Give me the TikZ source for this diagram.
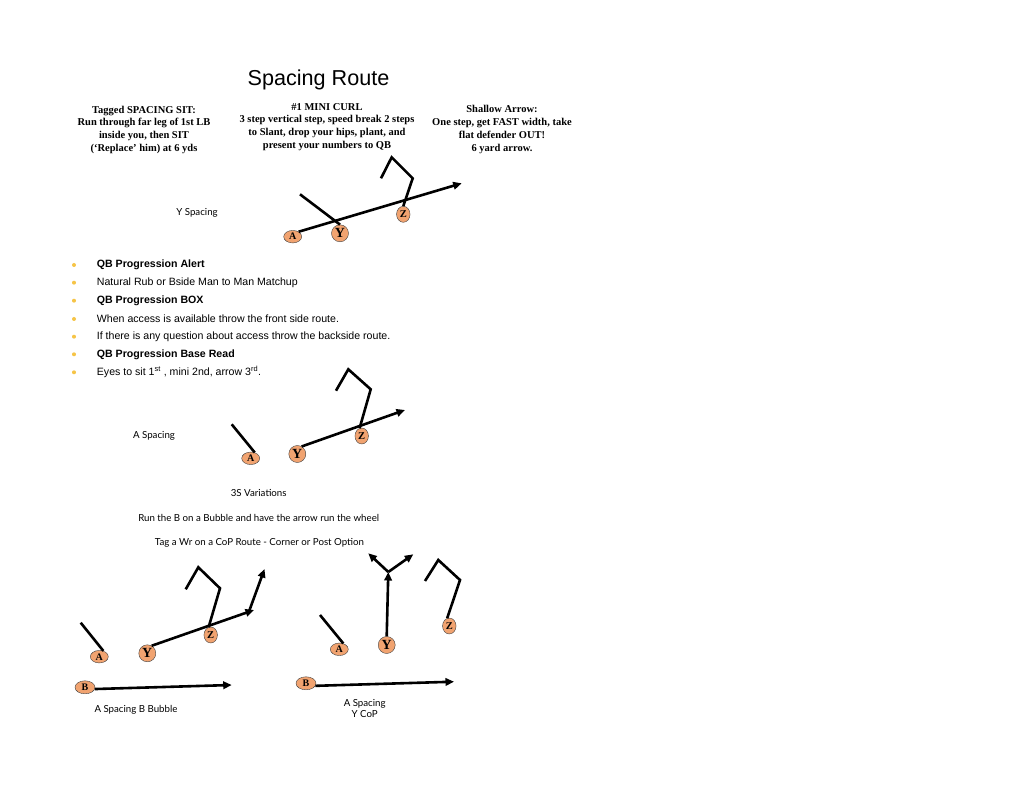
\documentclass[tikz,border=0pt]{standalone}
\usepackage{fontspec}
\setmainfont{Liberation Serif}
\setsansfont{Liberation Sans}
\newfontfamily\gill{Lato}
\usetikzlibrary{arrows.meta,shapes.geometric}
\definecolor{player}{RGB}{241,163,112}
\definecolor{bulletc}{RGB}{246,196,70}
\newcommand{\lowlet}[1]{\raisebox{-2pt}{#1}}
\begin{document}
\begin{tikzpicture}[x=1pt,y=-1pt,
  plr/.style={ellipse, draw=black!75, line width=0.4pt, fill=player, inner sep=0pt, font=\bfseries\rmfamily},
  pa/.style={plr, minimum width=18pt, minimum height=12.5pt, font=\bfseries\rmfamily\fontsize{10}{10}\selectfont},
  py/.style={plr, minimum width=17pt, minimum height=17pt, font=\bfseries\rmfamily\fontsize{14}{14}\selectfont},
  pz/.style={plr, minimum width=13.5pt, minimum height=16pt, font=\bfseries\rmfamily\fontsize{10.5}{10.5}\selectfont},
  pb/.style={plr, minimum width=20pt, minimum height=13pt, font=\bfseries\rmfamily\fontsize{10}{10}\selectfont},
  route/.style={line width=2.6pt},
  arr/.style={route, -{Triangle[length=8.5pt,width=7.5pt]}},
  head/.style={font=\rmfamily\bfseries\fontsize{10.5}{12.7}\selectfont, align=center},
  blt/.style={font=\sffamily\fontsize{10.6}{12}\selectfont, anchor=west, inner sep=0pt},
  bfblt/.style={blt, font=\sffamily\bfseries\fontsize{10.6}{12}\selectfont},
  dot/.style={circle, fill=bulletc, inner sep=0pt, minimum size=4pt},
  lbl/.style={font=\gill\fontsize{9.7}{11.2}\selectfont, align=center, inner sep=0pt}]
\useasboundingbox (0,0) rectangle (1023,791);
\fill[white] (0,0) rectangle (1023,791);

% title and headings
\node[font=\sffamily\fontsize{21.6}{26}\selectfont] (title) at (318.5,80) {Spacing Route};
\node[head] (h1) at (144,129.7) {Tagged SPACING SIT:\\Run through far leg of 1st LB\\inside you, then SIT\\(‘Replace’ him) at 6 yds};
\node[head] (h2) at (327,127) {\#1 MINI CURL\\3 step vertical step, speed break 2 steps\\to Slant, drop your hips, plant, and\\present your numbers to QB};
\node[head] (h3) at (502,129.5) {Shallow Arrow:\\One step, get FAST width, take\\flat defender OUT!\\6 yard arrow.};

% ---------- Y Spacing ----------
\node[lbl] (lys) at (197,213) {Y Spacing};
\node[pa] (A1) at (292.7,236.7) {\lowlet{A}};
\node[py] (Y1) at (340,233.3) {Y};
\node[pz] (Z1) at (403.3,214.3) {Z};
\coordinate (a1t) at (461.7,183.3);
\coordinate (y1s) at (300,194.3);
\coordinate (z1a) at (412.7,178.3);
\coordinate (z1b) at (391.7,157.3);
\coordinate (z1c) at (381,178.3);
\draw[arr] (A1.40) -- (a1t);
\draw[route] (y1s) -- (Y1.north);
\draw[route] (Z1.north) -- (z1a) -- (z1b) -- (z1c);

% ---------- bullets ----------
\foreach \yy/\nm in {265/b1,282.7/b2,300.7/b3,319/b4,336.7/b5,354.3/b6,372.3/b7}
  \node[dot] (d\nm) at (74,\yy) {};
\node[bfblt] (b1) at (96.7,265) {QB Progression Alert};
\node[blt] (b2) at (96.7,282.7) {Natural Rub or Bside Man to Man Matchup};
\node[bfblt] (b3) at (96.7,300.7) {QB Progression BOX};
\node[blt] (b4) at (96.7,319) {When access is available throw the front side route.};
\node[blt] (b5) at (96.7,336.7) {If there is any question about access throw the backside route.};
\node[bfblt] (b6) at (96.7,354.3) {QB Progression Base Read};
\node[blt] (b7) at (96.7,372.3) {Eyes to sit 1\textsuperscript{st} , mini 2nd, arrow 3\textsuperscript{rd}.};

% ---------- A Spacing ----------
\node[lbl] (las) at (154,436) {A Spacing};
\node[pa] (A2) at (250.7,458.3) {\lowlet{A}};
\node[py] (Y2) at (297.3,454) {Y};
\node[pz] (Z2) at (361.7,436) {Z};
\coordinate (a2s) at (231.7,424.3);
\coordinate (y2t) at (405,410);
\coordinate (z2a) at (370.7,389.3);
\coordinate (z2b) at (348.3,369.3);
\coordinate (z2c) at (336,390.7);
\draw[route] (a2s) -- (A2.55);
\draw[arr] (Y2.60) -- (y2t);
\draw[route] (Z2.105) -- (z2a) -- (z2b) -- (z2c);

% ---------- text ----------
\node[lbl] (v1) at (258.7,492.7) {3S Variations};
\node[lbl] (v2) at (258.7,518.3) {Run the B on a Bubble and have the arrow run the wheel};
\node[lbl] (v3) at (259.5,542.7) {Tag a Wr on a CoP Route - Corner or Post Option};

% ---------- A Spacing B Bubble ----------
\node[pa] (A3) at (99.3,656.7) {\lowlet{A}};
\node[py] (Y3) at (147.3,653.3) {Y};
\node[pz] (Z3) at (210.7,635) {Z};
\node[pb] (B3) at (85,687.3) {\lowlet{B}};
\coordinate (a3s) at (80.7,622.7);
\coordinate (y3t) at (254,610);
\coordinate (w3s) at (249,611.5);
\coordinate (w3t) at (264.5,569);
\coordinate (z3a) at (220,588.3);
\coordinate (z3b) at (198.3,567.3);
\coordinate (z3c) at (185.7,589.3);
\coordinate (b3t) at (231.7,685);
\draw[route] (a3s) -- (A3.55);
\draw[arr] (Y3.60) -- (y3t);
\draw[arr] (w3s) -- (w3t);
\draw[route] (Z3.105) -- (z3a) -- (z3b) -- (z3c);
\draw[arr] (B3.-10) -- (b3t);
\node[lbl] (l3) at (136,710) {A Spacing B Bubble};

% ---------- A Spacing Y CoP ----------
\node[pa] (A4) at (339.3,649.3) {\lowlet{A}};
\node[py] (Y4) at (386.7,645) {Y};
\node[pz] (Z4) at (449.3,626) {Z};
\node[pb] (B4) at (306,683.3) {\lowlet{B}};
\coordinate (a4s) at (320,615);
\coordinate (y4m) at (388.3,572);
\coordinate (y4l) at (368.3,553.3);
\coordinate (y4r) at (413.3,554.3);
\coordinate (z4a) at (460,580);
\coordinate (z4b) at (438.3,560);
\coordinate (z4c) at (425,581);
\coordinate (b4t) at (454,681.7);
\draw[route] (a4s) -- (A4.55);
\draw[arr] (Y4.north) -- (y4m);
\draw[arr] (y4m) -- (y4l);
\draw[arr] (y4m) -- (y4r);
\draw[route] (Z4.105) -- (z4a) -- (z4b) -- (z4c);
\draw[arr] (B4.-15) -- (b4t);
\node[lbl] (l4) at (364.7,708.7) {A Spacing\\Y CoP};
\end{tikzpicture}
\end{document}
